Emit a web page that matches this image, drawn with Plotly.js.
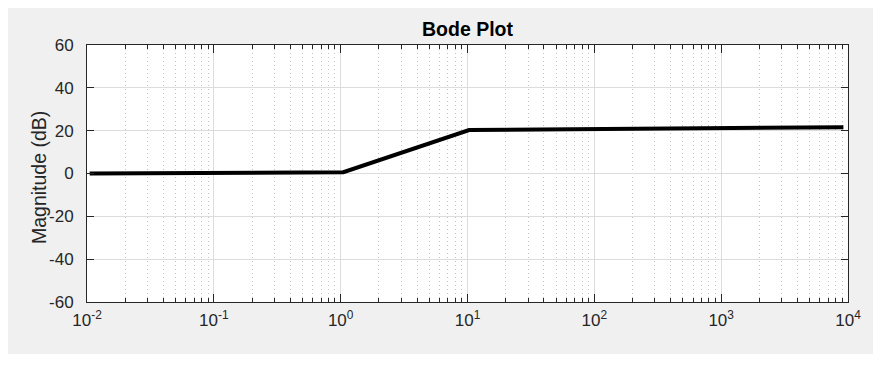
<!DOCTYPE html>
<html>
<head>
<meta charset="utf-8">
<script src="https://cdn.plot.ly/plotly-3.0.1.min.js"></script>
<style>html,body{margin:0;padding:0;background:#fff;}#chart{width:885px;height:367px;}</style>
</head>
<body>
<div id="chart"></div>
<script>
// Data (frequency in rad/s, magnitude in dB)
const freq = [0.0105, 1.05, 10.3, 9200];
const magnitudeDb = [0.0, 0.6, 20.3, 21.6];

const xTickVals = [0.01, 0.1, 1, 10, 100, 1000, 10000];
const xTickText = ['10<sup>-2</sup>', '10<sup>-1</sup>', '10<sup>0</sup>', '10<sup>1</sup>', '10<sup>2</sup>', '10<sup>3</sup>', '10<sup>4</sup>'];
const yTickVals = [-60, -40, -20, 0, 20, 40, 60];
const yTickText = ['-60', '-40', '-20', '0', '20', '40', '60'];
const yTitle = 'Magnitude (dB)';
const chartTitle = 'Bode Plot';

const minorVals = [];
for (let k = -2; k < 4; k++) {
  for (let m = 2; m <= 9; m++) minorVals.push(m * Math.pow(10, k));
}

const axisColor = '#262626';
const fontFam = 'Liberation Sans, Arial, Helvetica, sans-serif';

const trace = {
  x: freq, y: magnitudeDb, type: 'scatter', mode: 'lines',
  line: {color: '#000000', width: 4}, hoverinfo: 'skip'
};

const plotL = 87, plotR = 848, plotT = 45, plotB = 302, W = 885, H = 367;
const pw = plotR - plotL, ph = plotB - plotT;
const px = v => (v - plotL) / pw;
const py = v => (plotB - v) / ph;

const layout = {
  width: W, height: H,
  margin: {l: plotL, r: W - plotR, t: plotT, b: H - plotB, pad: 0},
  paper_bgcolor: '#ffffff', plot_bgcolor: '#ffffff',
  showlegend: false,
  font: {family: fontFam, color: axisColor, size: 17},
  title: {text: '<b>' + chartTitle + '</b>', x: 0.5, xref: 'paper', xanchor: 'center',
          y: 1 - 29 / H, yref: 'container', yanchor: 'middle',
          font: {family: fontFam, size: 19.5, color: '#000000'}},
  xaxis: {
    type: 'log', range: [-2, 4], tickmode: 'array', tickvals: xTickVals, ticktext: xTickText,
    ticks: 'inside', ticklen: 8, tickwidth: 1, tickcolor: axisColor,
    showline: true, linecolor: axisColor, linewidth: 1, mirror: 'ticks',
    showgrid: true, gridcolor: '#dcdcdc', gridwidth: 1, zeroline: false,
    tickfont: {size: 17, color: axisColor}, ticklabelstandoff: 3,
    minor: {tickmode: 'array', tickvals: minorVals, ticks: 'inside', ticklen: 4,
            tickcolor: axisColor, showgrid: true, gridcolor: '#c4c4c4', griddash: '1px,3px', gridwidth: 1}
  },
  yaxis: {
    range: [-60, 60], tickmode: 'array', tickvals: yTickVals, ticktext: yTickText,
    ticks: 'inside', ticklen: 7, tickwidth: 1, tickcolor: axisColor,
    showline: true, linecolor: axisColor, linewidth: 1, mirror: 'ticks',
    showgrid: true, gridcolor: '#dcdcdc', gridwidth: 1, zeroline: false,
    tickfont: {size: 17, color: axisColor}, ticklabelstandoff: 9
  },
  annotations: [
    {text: yTitle, xref: 'paper', yref: 'paper', x: px(39), y: py(178),
     xanchor: 'center', yanchor: 'middle', textangle: -90, showarrow: false,
     font: {family: fontFam, size: 19.5, color: axisColor}}
  ],
  shapes: [
    {type: 'rect', xref: 'paper', yref: 'paper', x0: px(8), x1: px(873), y0: py(354), y1: py(8),
     fillcolor: '#f0f0f0', line: {width: 0}, layer: 'below'},
    {type: 'rect', xref: 'x domain', yref: 'y domain', x0: 0, x1: 1, y0: 0, y1: 1,
     fillcolor: '#ffffff', line: {width: 0}, layer: 'below'}
  ]
};

Plotly.newPlot('chart', [trace], layout, {displayModeBar: false, staticPlot: true});
</script>
</body>
</html>
